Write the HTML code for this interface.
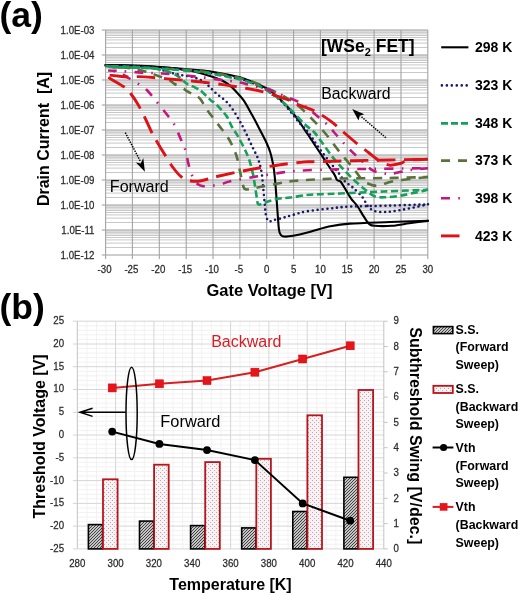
<!DOCTYPE html><html><head><meta charset="utf-8"><style>html,body{margin:0;padding:0;background:#fff;}svg{display:block;}text{font-family:"Liberation Sans",Arial,sans-serif;white-space:pre;}</style></head><body><svg width="520" height="595" viewBox="0 0 520 595"><defs><pattern id="hatch" x="0" y="0" width="3" height="3" patternUnits="userSpaceOnUse"><rect width="3" height="3" fill="#fff"/><path d="M-0.6 3.6L3.6 -0.6M2.4 3.6L3.6 2.4M-0.6 0.6L0.6 -0.6" stroke="#3a3a3a" stroke-width="1.15"/></pattern><pattern id="dots" x="0" y="0" width="4" height="4" patternUnits="userSpaceOnUse"><rect width="4" height="4" fill="#f8f1f3"/><rect x="0" y="0" width="1" height="1" fill="#b8a8ac"/><rect x="2" y="2" width="1" height="1" fill="#c4b0b6"/></pattern></defs><rect width="520" height="595" fill="#fff"/><path d="M105.6 47.5H427.8M105.6 43.1H427.8M105.6 39.9H427.8M105.6 37.5H427.8M105.6 35.5H427.8M105.6 33.9H427.8M105.6 32.4H427.8M105.6 31.1H427.8M105.6 72.5H427.8M105.6 68.1H427.8M105.6 64.9H427.8M105.6 62.5H427.8M105.6 60.5H427.8M105.6 58.9H427.8M105.6 57.4H427.8M105.6 56.1H427.8M105.6 97.5H427.8M105.6 93.1H427.8M105.6 89.9H427.8M105.6 87.5H427.8M105.6 85.5H427.8M105.6 83.9H427.8M105.6 82.4H427.8M105.6 81.1H427.8M105.6 122.5H427.8M105.6 118.1H427.8M105.6 114.9H427.8M105.6 112.5H427.8M105.6 110.5H427.8M105.6 108.9H427.8M105.6 107.4H427.8M105.6 106.1H427.8M105.6 147.5H427.8M105.6 143.1H427.8M105.6 139.9H427.8M105.6 137.5H427.8M105.6 135.5H427.8M105.6 133.9H427.8M105.6 132.4H427.8M105.6 131.1H427.8M105.6 172.5H427.8M105.6 168.1H427.8M105.6 164.9H427.8M105.6 162.5H427.8M105.6 160.5H427.8M105.6 158.9H427.8M105.6 157.4H427.8M105.6 156.1H427.8M105.6 197.5H427.8M105.6 193.1H427.8M105.6 189.9H427.8M105.6 187.5H427.8M105.6 185.5H427.8M105.6 183.9H427.8M105.6 182.4H427.8M105.6 181.1H427.8M105.6 222.5H427.8M105.6 218.1H427.8M105.6 214.9H427.8M105.6 212.5H427.8M105.6 210.5H427.8M105.6 208.9H427.8M105.6 207.4H427.8M105.6 206.1H427.8M105.6 247.5H427.8M105.6 243.1H427.8M105.6 239.9H427.8M105.6 237.5H427.8M105.6 235.5H427.8M105.6 233.9H427.8M105.6 232.4H427.8M105.6 231.1H427.8" stroke="#c2c2c2" stroke-width="0.9" fill="none"/><path d="M101.8 30H427.8M101.8 55H427.8M101.8 80H427.8M101.8 105H427.8M101.8 130H427.8M101.8 155H427.8M101.8 180H427.8M101.8 205H427.8M101.8 230H427.8M101.8 255H427.8" stroke="#9c9c9c" stroke-width="1" fill="none"/><path d="M105.6 30V259M132.4 30V259M159.3 30V259M186.2 30V259M213 30V259M239.9 30V259M266.7 30V259M293.6 30V259M320.4 30V259M347.2 30V259M374.1 30V259M401 30V259M427.8 30V259" stroke="#a4a4a4" stroke-width="1.1" fill="none"/><text transform="translate(94.5 33.5) scale(0.95 1)" font-size="10.2" fill="#2b2b2b" stroke="#2b2b2b" stroke-width="0.25" text-anchor="end">1.0E-03</text><text transform="translate(94.5 58.5) scale(0.95 1)" font-size="10.2" fill="#2b2b2b" stroke="#2b2b2b" stroke-width="0.25" text-anchor="end">1.0E-04</text><text transform="translate(94.5 83.5) scale(0.95 1)" font-size="10.2" fill="#2b2b2b" stroke="#2b2b2b" stroke-width="0.25" text-anchor="end">1.0E-05</text><text transform="translate(94.5 108.5) scale(0.95 1)" font-size="10.2" fill="#2b2b2b" stroke="#2b2b2b" stroke-width="0.25" text-anchor="end">1.0E-06</text><text transform="translate(94.5 133.5) scale(0.95 1)" font-size="10.2" fill="#2b2b2b" stroke="#2b2b2b" stroke-width="0.25" text-anchor="end">1.0E-07</text><text transform="translate(94.5 158.5) scale(0.95 1)" font-size="10.2" fill="#2b2b2b" stroke="#2b2b2b" stroke-width="0.25" text-anchor="end">1.0E-08</text><text transform="translate(94.5 183.5) scale(0.95 1)" font-size="10.2" fill="#2b2b2b" stroke="#2b2b2b" stroke-width="0.25" text-anchor="end">1.0E-09</text><text transform="translate(94.5 208.5) scale(0.95 1)" font-size="10.2" fill="#2b2b2b" stroke="#2b2b2b" stroke-width="0.25" text-anchor="end">1.0E-10</text><text transform="translate(94.5 233.5) scale(0.95 1)" font-size="10.2" fill="#2b2b2b" stroke="#2b2b2b" stroke-width="0.25" text-anchor="end">1.0E-11</text><text transform="translate(94.5 258.5) scale(0.95 1)" font-size="10.2" fill="#2b2b2b" stroke="#2b2b2b" stroke-width="0.25" text-anchor="end">1.0E-12</text><text transform="translate(104.6 273) scale(0.95 1)" font-size="10.2" fill="#2b2b2b" stroke="#2b2b2b" stroke-width="0.25" text-anchor="middle">-30</text><text transform="translate(131.4 273) scale(0.95 1)" font-size="10.2" fill="#2b2b2b" stroke="#2b2b2b" stroke-width="0.25" text-anchor="middle">-25</text><text transform="translate(158.3 273) scale(0.95 1)" font-size="10.2" fill="#2b2b2b" stroke="#2b2b2b" stroke-width="0.25" text-anchor="middle">-20</text><text transform="translate(185.2 273) scale(0.95 1)" font-size="10.2" fill="#2b2b2b" stroke="#2b2b2b" stroke-width="0.25" text-anchor="middle">-15</text><text transform="translate(212 273) scale(0.95 1)" font-size="10.2" fill="#2b2b2b" stroke="#2b2b2b" stroke-width="0.25" text-anchor="middle">-10</text><text transform="translate(238.9 273) scale(0.95 1)" font-size="10.2" fill="#2b2b2b" stroke="#2b2b2b" stroke-width="0.25" text-anchor="middle">-5</text><text transform="translate(266.7 273) scale(0.95 1)" font-size="10.2" fill="#2b2b2b" stroke="#2b2b2b" stroke-width="0.25" text-anchor="middle">0</text><text transform="translate(293.6 273) scale(0.95 1)" font-size="10.2" fill="#2b2b2b" stroke="#2b2b2b" stroke-width="0.25" text-anchor="middle">5</text><text transform="translate(320.4 273) scale(0.95 1)" font-size="10.2" fill="#2b2b2b" stroke="#2b2b2b" stroke-width="0.25" text-anchor="middle">10</text><text transform="translate(347.2 273) scale(0.95 1)" font-size="10.2" fill="#2b2b2b" stroke="#2b2b2b" stroke-width="0.25" text-anchor="middle">15</text><text transform="translate(374.1 273) scale(0.95 1)" font-size="10.2" fill="#2b2b2b" stroke="#2b2b2b" stroke-width="0.25" text-anchor="middle">20</text><text transform="translate(401 273) scale(0.95 1)" font-size="10.2" fill="#2b2b2b" stroke="#2b2b2b" stroke-width="0.25" text-anchor="middle">25</text><text transform="translate(427.8 273) scale(0.95 1)" font-size="10.2" fill="#2b2b2b" stroke="#2b2b2b" stroke-width="0.25" text-anchor="middle">30</text><g fill="none" stroke-linejoin="round" clip-path="none"><path id="black_fwd" d="M105.6 65C113 65.2 136.8 65.5 150 66.3C163.2 67.1 175 68.2 185 69.8C195 71.4 203.8 74.2 210 76C216.2 77.8 218.7 78.9 222 80.5C225.3 82.1 227.7 83.8 230 85.6C232.3 87.4 233.8 89.1 236 91.5C238.2 93.9 240.8 96.3 243.5 100.2C246.2 104.1 249.3 110.1 252.1 115.1C254.9 120.1 257.7 125.5 260.1 130.2C262.5 134.9 265 139.6 266.7 143.3C268.4 147 269.4 149.6 270.3 152.5C271.2 155.4 271.8 158.1 272.4 161C273 163.9 273.5 166 274 170C274.5 174 275 179.2 275.5 185C276 190.8 276.5 198.3 277 205C277.5 211.7 278.1 220.4 278.5 225C278.9 229.6 278.9 230.6 279.6 232.5C280.3 234.4 280.5 235.8 282.7 236.3C284.9 236.9 288.4 236.6 293 235.8C297.6 235 304.2 233.3 310.4 231.7C316.6 230.1 323.4 227.7 330 226.3C336.6 225 340 224.3 350 223.6C360 222.9 377 222.5 390 222C403 221.5 421.7 220.9 428 220.7" stroke="#000000" stroke-width="2.1" stroke-linecap="round"/><path id="black_bwd" d="M428 220.7C424.9 221.1 415.2 222.5 409.2 223.3C403.2 224.2 397.7 225.4 391.9 225.8C386.1 226.2 378.4 226.1 374.6 225.8C370.9 225.5 371.1 225.5 369.4 224.1C367.7 222.7 366.2 220.2 364.2 217.2C362.2 214.2 359.5 209.1 357.3 206C355.1 202.9 353.2 201.5 351.1 198.6C349.1 195.7 346.7 191.3 345 188.5C343.3 185.7 342 183.3 341 182C340 180.7 339.7 181.3 339 180.9C338.3 180.5 337.6 180.7 336.8 179.6C336 178.5 335.8 176.8 334.3 174.4C332.8 172 330.2 168.4 328 165C325.8 161.6 323.8 158.6 320.9 154.2C318 149.8 313.6 142.9 310.8 138.8C308.1 134.7 306.2 132.2 304.4 129.5C302.6 126.8 301.6 124.9 300 122.5C298.4 120.1 296.9 118 294.6 115.2C292.4 112.4 289.4 108.9 286.5 105.8C283.6 102.7 280.2 99.3 277.1 96.5C274 93.7 271.1 91.3 267.7 89.2C264.3 87.1 260.9 85.6 256.9 83.8C252.9 82 248 79.9 243.5 78.4C239 76.9 234.8 76 230 75C225.2 74 220 73 215 72.2C210 71.4 210.8 71.2 200 70.2C189.2 69.2 165.7 67.4 150 66.5C134.3 65.6 113 65.2 105.6 65" stroke="#000000" stroke-width="2.1" stroke-linecap="round"/><path id="blue_fwd" d="M105.6 65.5C111.3 65.7 131.4 66.2 140 66.8C148.6 67.4 152.1 67.9 157.3 68.9C162.5 69.9 167.2 71.7 171 72.7C174.8 73.7 177.3 74.4 180.4 75C183.5 75.6 187 75.8 189.6 76.3C192.2 76.8 193.4 76.9 196 78C198.6 79.1 201.8 80.3 205 82.7C208.2 85.1 211.1 88.8 215 92.3C218.9 95.8 224.4 99.1 228.5 103.8C232.6 108.5 236.6 115.8 239.4 120.5C242.2 125.2 243.4 127.9 245.5 132.2C247.6 136.5 250 141.9 252.1 146.3C254.2 150.8 256.5 154.6 258.1 158.9C259.7 163.2 260.6 167.2 261.5 172C262.4 176.8 262.6 182.5 263.2 188C263.8 193.5 264.4 200.6 264.8 205C265.2 209.4 265.2 211.8 265.8 214.5C266.4 217.2 267.2 220.4 268.5 221.3C269.8 222.2 271.1 220.8 273.5 220.2C275.9 219.6 279.5 218.8 282.7 217.9C285.9 217 288.4 216.1 292.5 215C296.6 213.9 300.8 212.4 307 211.3C313.2 210.2 322.8 209.3 330 208.5C337.2 207.7 340 207.1 350 206.6C360 206.1 377 206 390 205.6C403 205.2 421.7 204.5 428 204.3" stroke="#18186e" stroke-width="2.6" stroke-linecap="round" stroke-dasharray="0 4.85"/><path id="blue_bwd" d="M428 204.3C425.4 204.9 417.6 206.7 412.7 207.7C407.8 208.7 403.1 209.6 398.8 210.3C394.5 211 390.7 211.9 386.7 212C382.7 212.1 377.8 212.1 374.6 211.1C371.4 210.1 369.7 208.3 367.7 206C365.7 203.7 365.1 200.5 362.5 197.3C359.9 194.1 355 189.5 352.1 186.9C349.2 184.3 347.6 184.1 345.2 181.7C342.8 179.3 341.8 177.1 338 172.3C334.2 167.5 326.9 158.6 322.7 153C318.5 147.4 315.3 142.5 312.7 138.8C310.1 135.1 309.6 133.7 307.3 131C305 128.3 301.9 125.8 299 122.5C296.1 119.2 293.1 114.7 290 111C286.9 107.3 283.9 103.7 280.4 100.5C276.9 97.3 272.6 94.2 268.8 91.6C265 89 262.1 87.1 257.3 85C252.5 82.9 249.6 81.2 240 79C230.4 76.8 215 73.5 200 71.5C185 69.5 165.7 68.2 150 67.2C134.3 66.2 113 65.8 105.6 65.5" stroke="#18186e" stroke-width="2.6" stroke-linecap="round" stroke-dasharray="0 4.85"/><path id="olive_fwd" d="M105.6 66C109.7 66.4 123.7 67.4 130 68.2C136.3 69 139.5 70 143.5 71C147.5 72 149.6 72.9 153.8 74.4C158 75.9 165.3 78.2 168.8 79.8C172.3 81.4 172.3 82.7 174.6 84C176.9 85.3 180.8 86.8 182.7 87.9C184.6 89 184.4 89.5 186.1 90.6C187.8 91.7 190.7 93.2 193 94.5C195.3 95.8 197.6 95.9 200 98.6C202.4 101.3 204.6 106.5 207.7 110.8C210.8 115.1 214.8 119.9 218.3 124.6C221.8 129.3 225.8 133.9 228.8 139C231.8 144.1 234.4 149.8 236.2 155C238 160.2 238.8 165.9 239.8 170.4C240.8 174.9 241.5 178.9 242.4 182C243.3 185.1 242.7 188.3 245.4 189.2C248.1 190.1 253.4 188.2 258.8 187.3C264.2 186.4 271.8 184.6 278 183.5C284.2 182.4 287.3 181.6 296 180.8C304.7 180 315 179.3 330 178.8C345 178.3 369.7 178.3 386 178C402.3 177.7 421 177.2 428 177" stroke="#58723a" stroke-width="2.6" stroke-linecap="butt" stroke-dasharray="9 7.73" stroke-dashoffset="1.3"/><path id="olive_bwd" d="M428 177C425 177.3 416 178.2 410 179C404 179.8 396.7 180.6 392 181.5C387.3 182.4 384.9 183.8 382 184.5C379.1 185.2 376.9 185.8 374.6 185.6C372.3 185.4 369.9 184.3 368 183.5C366.1 182.7 365.4 183.5 363 181C360.6 178.5 357.3 173.2 353.5 168.5C349.7 163.8 344.8 158.4 340 152.5C335.2 146.6 329.9 138.8 325 133C320.1 127.2 315 122 310.8 117.7C306.6 113.4 303.5 110.2 300 107.3C296.5 104.3 293.3 102.1 290 100C286.7 97.9 283.9 96.4 280.4 94.5C276.9 92.6 272.6 90.6 268.8 88.8C265 87 262.1 85.4 257.3 83.6C252.5 81.8 249.6 80.1 240 78C230.4 75.9 215 72.9 200 71.2C185 69.5 165.7 68.7 150 68C134.3 67.3 113 67.3 105.6 67.2" stroke="#58723a" stroke-width="2.6" stroke-linecap="butt" stroke-dasharray="9.5 8"/><path id="green_fwd" d="M105.6 66C111.3 66.2 130.9 66.6 140 67.2C149.1 67.8 154 68.2 160 69.5C166 70.8 171.7 72.7 176 75C180.3 77.3 183.8 81.7 186.1 83.3C188.4 84.9 187.7 83.9 189.6 84.8C191.5 85.7 195.7 87.7 197.7 88.8C199.7 89.9 199.2 89.3 201.5 91.3C203.8 93.3 209.2 99 211.5 101C213.8 103 212.5 100.5 215 103C217.5 105.5 223.7 112 226.5 116C229.3 120 230 123.5 232 127C234 130.6 235.8 132.4 238.5 137.3C241.2 142.2 245.7 150.7 248 156.5C250.3 162.3 251.3 167.1 252.5 172C253.7 176.9 254.2 181.5 255 186C255.8 190.5 256.4 195.7 257 198.8C257.6 201.9 257 204.2 258.8 204.6C260.6 205 264.8 202.5 268 201.5C271.2 200.5 274.3 199.5 278 198.8C281.7 198.1 285.2 198.1 290 197.5C294.8 196.9 302.2 195.5 307 195C311.8 194.5 313.3 194.6 318.8 194.3C324.3 194.1 329.2 194 340 193.5C350.8 193 368.9 192.1 383.6 191.5C398.3 190.9 420.6 190.1 428 189.8" stroke="#17a05a" stroke-width="2.6" stroke-linecap="butt" stroke-dasharray="7 3.6" stroke-dashoffset="4.4"/><path id="green_bwd" d="M428 189.6C426.3 190 422.5 191.1 417.9 192.1C413.3 193.1 406.1 194.7 400.6 195.6C395.1 196.5 389.3 197.2 385 197.3C380.7 197.4 378 197.5 374.6 196.2C371.2 194.8 368.1 191.9 364.6 189.2C361.1 186.5 357.2 182.9 353.8 179.8C350.4 176.7 347 173.1 344.4 170.4C341.8 167.7 340.2 166.1 338 163.5C335.8 160.9 333.7 158.5 331 155C328.3 151.5 324.8 146.3 322 142.5C319.2 138.7 316.8 135 314 132C311.2 129 308.8 128.1 305 124.5C301.2 120.9 295.6 114.6 291.5 110.5C287.4 106.4 284.2 103.2 280.4 100C276.6 96.8 272.6 94 268.8 91.6C265 89.1 261.5 87.2 257.3 85.3C253.1 83.4 247.4 81.4 243.5 80.2C239.6 79 241.2 79.6 234 78.2C226.8 76.8 214 73.7 200 72C186 70.3 165.7 69 150 68.2C134.3 67.4 113 67.2 105.6 67" stroke="#17a05a" stroke-width="2.6" stroke-linecap="butt" stroke-dasharray="7 3.6"/><path id="magenta_fwd" d="M105.6 70.4C106.9 70.5 111 70.4 113.6 70.9C116.2 71.4 118.5 72.3 121 73.5C123.5 74.7 125.6 76.2 128.5 78C131.4 79.8 135.6 82.1 138.6 84C141.6 85.9 144.1 87.5 146.3 89.5C148.5 91.5 150.1 93.8 152 96C153.9 98.2 155.1 99.7 157.7 102.9C160.2 106.1 164.6 111.5 167.3 115C170 118.5 171.8 120 174 124C176.2 128 178.9 134.7 180.8 139.2C182.7 143.7 184.3 146.6 185.6 150.8C186.9 155 187.4 160 188.5 164.2C189.6 168.4 191.1 172.9 192.3 176C193.6 179.1 194.7 180.9 196 182.5C197.3 184.1 198.5 184.8 200 185.4C201.5 186 202.7 186.3 205 186.3C207.3 186.3 210.9 185.9 213.8 185.5C216.7 185.1 219.4 184.6 222.3 183.8C225.2 183 225.6 182.2 231.5 180.9C237.4 179.7 249.2 177.7 257.7 176.3C266.2 174.9 275.6 173.4 282.7 172.4C289.8 171.4 290.8 171.1 300 170.6C309.2 170.1 324.7 169.6 338 169.3C351.3 169 365 169 380 168.8C395 168.6 420 168.3 428 168.2" stroke="#c4167f" stroke-width="2.6" stroke-linecap="butt" stroke-dasharray="9 8.28 1.6 8.28" stroke-dashoffset="9.1"/><path id="magenta_bwd" d="M428 168.2C425 168.5 416 169.1 410 170C404 170.9 396.7 173.1 392 173.6C387.3 174.1 385.2 173.5 382 173C378.8 172.5 375.7 172.1 372.7 170.4C369.7 168.7 366.9 165.6 364 163C361.1 160.4 358.4 157.9 355.4 155C352.4 152.1 349 148.8 345.8 145.4C342.6 142 339 137.8 336 134.5C333 131.2 331.6 128.8 328 125.4C324.4 122 319.3 117.6 314.6 113.8C309.9 110 305.1 105.7 300 102.7C294.9 99.7 288.6 97.8 283.8 95.8C279 93.8 276.9 92.4 271.1 90.6C265.3 88.8 254.4 86.1 249.2 84.8C244 83.5 245 83.4 240 82.5C235 81.6 227.6 80.7 219 79.6C210.4 78.5 197.9 76.8 188.5 75.8C179.1 74.8 170.1 74 162.3 73.5C154.5 73 148.6 73 141.5 72.6C134.4 72.2 126 71.4 120 71C114 70.6 108 70.5 105.6 70.4" stroke="#c4167f" stroke-width="2.6" stroke-linecap="butt" stroke-dasharray="8.8 8.03 1.6 8.03" stroke-dashoffset="0.9"/><path id="red_fwd" d="M105.6 75.5C106.3 76 107 76.6 110 78.5C113 80.4 120.2 84.1 123.7 86.7C127.2 89.3 128.6 91 131 94C133.4 97 135.5 100.2 138 104.5C140.5 108.8 143.7 115.2 146 120C148.3 124.8 150.1 129.2 152 133C153.9 136.8 155.5 139.2 157.7 143C159.9 146.8 162.8 151.5 165.4 155.6C168 159.7 170.4 164 173 167.5C175.6 171 178.2 174.2 180.8 176.4C183.4 178.6 185.3 179.6 188.5 180.4C191.7 181.2 194.9 181.7 200 181C205.1 180.3 211.2 177.8 219.2 176C227.2 174.2 238.4 171.8 248 170C257.6 168.2 268.3 166.5 277 165.2C285.7 163.9 294 163 300 162.4C306 161.8 301.8 162 313 161.7C324.2 161.4 347.8 160.8 367 160.4C386.2 160 417.8 159.5 428 159.3" stroke="#dc1218" stroke-width="2.9" stroke-linecap="butt" stroke-dasharray="18.5 8.48" stroke-dashoffset="23.3"/><path id="red_bwd" d="M428 159.3C424.8 159.5 413.5 159.5 408.8 160.2C404.1 160.9 403.1 162.7 400 163.5C396.9 164.3 393.2 165.4 390 165.2C386.8 164.9 383.3 163.1 381 162C378.7 160.9 378.1 160.1 376 158.5C373.9 156.9 371.8 155.1 368.5 152.5C365.2 149.9 360.4 146.4 356 142.8C351.6 139.2 346.3 134.5 342 130.8C337.7 127.1 334.6 123.9 330 120.6C325.4 117.3 319.7 113.6 314.6 111C309.5 108.4 303.6 107 299.2 105.2C294.8 103.4 292.5 101.7 288.4 100C284.3 98.3 279.2 96.7 274.6 95.2C270 93.8 265.8 92.5 261 91.3C256.2 90.1 252.2 89.4 245.8 88.3C239.4 87.2 231.3 85.8 222.7 84.6C214.1 83.4 201.9 82 194 81.2C186.1 80.4 181.8 80.1 175 79.5C168.2 78.9 159.2 78 153 77.5C146.8 77 142.1 76.7 138 76.6C133.9 76.5 132.9 77.2 128.5 77C124.1 76.8 115.5 75.7 111.7 75.4C107.9 75.2 106.6 75.5 105.6 75.5" stroke="#dc1218" stroke-width="2.9" stroke-linecap="butt" stroke-dasharray="18.6 8.64" stroke-dashoffset="3.6"/></g><text x="109.8" y="191.5" font-size="16.1" fill="#000">Forward</text><text x="321.3" y="99.3" font-size="15.8" fill="#000">Backward</text><path d="M125.3 132.6L140.6 161.8" stroke="#000" stroke-width="1.5" stroke-dasharray="1.4 1.15" fill="none"/><path d="M144.9 171.8L135.9 162.5L140.7 163.4L143.3 158.1Z" fill="#000"/><path d="M385.8 137.7L360.6 116" stroke="#000" stroke-width="1.5" stroke-dasharray="1.4 1.15" fill="none"/><path d="M352.2 109.1L364.3 114.3L359.8 115.7L358.5 120.5Z" fill="#000"/><text x="321" y="52.1" font-size="17.5" font-weight="bold" fill="#000">[WSe<tspan font-size="11" dy="3.5">2</tspan><tspan dy="-3.5"> FET]</tspan></text><path d="M441.2 47.3H468.4" stroke="#000" stroke-width="2.1"/><text x="475" y="52.1" font-size="14" font-weight="bold" fill="#000">298 K</text><path d="M441.9 85.4H467" stroke="#18186e" stroke-width="2.6" stroke-linecap="round" stroke-dasharray="0 4.96"/><text x="475" y="90.2" font-size="14" font-weight="bold" fill="#000">323 K</text><path d="M441 123.4H468" stroke="#17a05a" stroke-width="2.6" stroke-dasharray="7 3"/><text x="475" y="128.2" font-size="14" font-weight="bold" fill="#000">348 K</text><path d="M441 160.6H450M458 160.6H467" stroke="#58723a" stroke-width="2.6"/><text x="475" y="165.4" font-size="14" font-weight="bold" fill="#000">373 K</text><path d="M441 198.3H450M458.3 198.3H459.9" stroke="#c4167f" stroke-width="2.6"/><text x="475" y="203.1" font-size="14" font-weight="bold" fill="#000">398 K</text><path d="M441 235.9H459.5" stroke="#dc1218" stroke-width="2.9"/><text x="475" y="240.7" font-size="14" font-weight="bold" fill="#000">423 K</text><text x="0" y="0" font-size="16" font-weight="bold" fill="#000" text-anchor="middle" transform="translate(49.2 139) rotate(-90)">Drain Current  [A]</text><text x="269.5" y="296.2" font-size="16.5" font-weight="bold" fill="#000" text-anchor="middle">Gate Voltage [V]</text><text x="-0.5" y="27" font-size="35.5" font-weight="bold" fill="#000">(a)</text><text x="-0.5" y="319" font-size="35.5" font-weight="bold" fill="#000">(b)</text><path d="M86.9 321.2V548.9M96.5 321.2V548.9M106 321.2V548.9M125.2 321.2V548.9M134.8 321.2V548.9M144.3 321.2V548.9M163.5 321.2V548.9M173.1 321.2V548.9M182.7 321.2V548.9M201.8 321.2V548.9M211.4 321.2V548.9M221 321.2V548.9M240.1 321.2V548.9M249.7 321.2V548.9M259.3 321.2V548.9M278.4 321.2V548.9M288 321.2V548.9M297.6 321.2V548.9M316.8 321.2V548.9M326.3 321.2V548.9M335.9 321.2V548.9M355.1 321.2V548.9M364.6 321.2V548.9M374.2 321.2V548.9M77.3 544.3H383.8M77.3 539.8H383.8M77.3 535.2H383.8M77.3 530.7H383.8M77.3 521.6H383.8M77.3 517H383.8M77.3 512.5H383.8M77.3 507.9H383.8M77.3 498.8H383.8M77.3 494.3H383.8M77.3 489.7H383.8M77.3 485.1H383.8M77.3 476H383.8M77.3 471.5H383.8M77.3 466.9H383.8M77.3 462.4H383.8M77.3 453.3H383.8M77.3 448.7H383.8M77.3 444.2H383.8M77.3 439.6H383.8M77.3 430.5H383.8M77.3 425.9H383.8M77.3 421.4H383.8M77.3 416.8H383.8M77.3 407.7H383.8M77.3 403.2H383.8M77.3 398.6H383.8M77.3 394.1H383.8M77.3 385H383.8M77.3 380.4H383.8M77.3 375.8H383.8M77.3 371.3H383.8M77.3 362.2H383.8M77.3 357.6H383.8M77.3 353.1H383.8M77.3 348.5H383.8M77.3 339.4H383.8M77.3 334.9H383.8M77.3 330.3H383.8M77.3 325.8H383.8" stroke="#f0f0f0" stroke-width="0.9" fill="none"/><path d="M115.6 321.2V548.9M153.9 321.2V548.9M192.2 321.2V548.9M230.6 321.2V548.9M268.9 321.2V548.9M307.2 321.2V548.9M345.5 321.2V548.9M72.9 548.9H383.8M72.9 526.1H383.8M72.9 503.4H383.8M72.9 480.6H383.8M72.9 457.8H383.8M72.9 435H383.8M72.9 412.3H383.8M72.9 389.5H383.8M72.9 366.7H383.8M72.9 344H383.8M72.9 321.2H383.8" stroke="#d6d6d6" stroke-width="1" fill="none"/><path d="M77.3 321.2V548.9M383.8 321.2V548.9M383.8 548.9H387.7M383.8 523.6H387.7M383.8 498.3H387.7M383.8 473H387.7M383.8 447.7H387.7M383.8 422.4H387.7M383.8 397.1H387.7M383.8 371.8H387.7M383.8 346.5H387.7M383.8 321.2H387.7" stroke="#c4c4c4" stroke-width="1" fill="none"/><rect x="88.4" y="524.6" width="14.2" height="24.3" fill="url(#hatch)" stroke="#000" stroke-width="1.6"/><rect x="103" y="479.3" width="14.6" height="69.6" fill="url(#dots)" stroke="#b8141c" stroke-width="1.8"/><rect x="139.5" y="521.1" width="14.2" height="27.8" fill="url(#hatch)" stroke="#000" stroke-width="1.6"/><rect x="154.1" y="464.7" width="14.6" height="84.2" fill="url(#dots)" stroke="#b8141c" stroke-width="1.8"/><rect x="190.6" y="525.6" width="14.2" height="23.3" fill="url(#hatch)" stroke="#000" stroke-width="1.6"/><rect x="205.2" y="462.1" width="14.6" height="86.8" fill="url(#dots)" stroke="#b8141c" stroke-width="1.8"/><rect x="241.7" y="527.9" width="14.2" height="21" fill="url(#hatch)" stroke="#000" stroke-width="1.6"/><rect x="256.3" y="458.8" width="14.6" height="90.1" fill="url(#dots)" stroke="#b8141c" stroke-width="1.8"/><rect x="292.8" y="511.5" width="14.2" height="37.4" fill="url(#hatch)" stroke="#000" stroke-width="1.6"/><rect x="307.4" y="415.3" width="14.6" height="133.6" fill="url(#dots)" stroke="#b8141c" stroke-width="1.8"/><rect x="343.9" y="477.3" width="14.2" height="71.6" fill="url(#hatch)" stroke="#000" stroke-width="1.6"/><rect x="358.5" y="390" width="14.6" height="158.9" fill="url(#dots)" stroke="#b8141c" stroke-width="1.8"/><path d="M112.2 431.6L159.4 443.9L207 450.1L254.9 460.1L302.7 503.4L350.2 520.7" stroke="#000" stroke-width="2" fill="none"/><path d="M112.2 387.9L159.4 383.8L207 380.6L254.9 372.2L302.7 359L350.2 345.8" stroke="#d42020" stroke-width="2" fill="none"/><circle cx="112.2" cy="431.6" r="3.9" fill="#000"/><circle cx="159.4" cy="443.9" r="3.9" fill="#000"/><circle cx="207" cy="450.1" r="3.9" fill="#000"/><circle cx="254.9" cy="460.1" r="3.9" fill="#000"/><circle cx="302.7" cy="503.4" r="3.9" fill="#000"/><circle cx="350.2" cy="520.7" r="3.9" fill="#000"/><rect x="108.2" y="383.9" width="8" height="8" fill="#e8141c" stroke="#c00" stroke-width="0.5"/><rect x="155.4" y="379.8" width="8" height="8" fill="#e8141c" stroke="#c00" stroke-width="0.5"/><rect x="203" y="376.6" width="8" height="8" fill="#e8141c" stroke="#c00" stroke-width="0.5"/><rect x="250.9" y="368.2" width="8" height="8" fill="#e8141c" stroke="#c00" stroke-width="0.5"/><rect x="298.7" y="355" width="8" height="8" fill="#e8141c" stroke="#c00" stroke-width="0.5"/><rect x="346.2" y="341.8" width="8" height="8" fill="#e8141c" stroke="#c00" stroke-width="0.5"/><ellipse cx="131.6" cy="413.4" rx="5.6" ry="46.2" fill="none" stroke="#000" stroke-width="1.5"/><path d="M125.8 412.3H80.5M92.6 408.2L80 412.3L92.6 416.4" stroke="#000" stroke-width="1.5" fill="none"/><text x="160.3" y="426.8" font-size="16.4" fill="#000">Forward</text><text x="211.2" y="346.9" font-size="16" fill="#d41e26">Backward</text><text transform="translate(64.1 551.8) scale(0.95 1)" font-size="10.2" fill="#2b2b2b" stroke="#2b2b2b" stroke-width="0.25" text-anchor="end">-25</text><text transform="translate(64.1 529) scale(0.95 1)" font-size="10.2" fill="#2b2b2b" stroke="#2b2b2b" stroke-width="0.25" text-anchor="end">-20</text><text transform="translate(64.1 506.3) scale(0.95 1)" font-size="10.2" fill="#2b2b2b" stroke="#2b2b2b" stroke-width="0.25" text-anchor="end">-15</text><text transform="translate(64.1 483.5) scale(0.95 1)" font-size="10.2" fill="#2b2b2b" stroke="#2b2b2b" stroke-width="0.25" text-anchor="end">-10</text><text transform="translate(64.1 460.7) scale(0.95 1)" font-size="10.2" fill="#2b2b2b" stroke="#2b2b2b" stroke-width="0.25" text-anchor="end">-5</text><text transform="translate(64.1 437.9) scale(0.95 1)" font-size="10.2" fill="#2b2b2b" stroke="#2b2b2b" stroke-width="0.25" text-anchor="end">0</text><text transform="translate(64.1 415.2) scale(0.95 1)" font-size="10.2" fill="#2b2b2b" stroke="#2b2b2b" stroke-width="0.25" text-anchor="end">5</text><text transform="translate(64.1 392.4) scale(0.95 1)" font-size="10.2" fill="#2b2b2b" stroke="#2b2b2b" stroke-width="0.25" text-anchor="end">10</text><text transform="translate(64.1 369.6) scale(0.95 1)" font-size="10.2" fill="#2b2b2b" stroke="#2b2b2b" stroke-width="0.25" text-anchor="end">15</text><text transform="translate(64.1 346.9) scale(0.95 1)" font-size="10.2" fill="#2b2b2b" stroke="#2b2b2b" stroke-width="0.25" text-anchor="end">20</text><text transform="translate(64.1 324.1) scale(0.95 1)" font-size="10.2" fill="#2b2b2b" stroke="#2b2b2b" stroke-width="0.25" text-anchor="end">25</text><text transform="translate(77.3 567.3) scale(0.95 1)" font-size="10.2" fill="#2b2b2b" stroke="#2b2b2b" stroke-width="0.25" text-anchor="middle">280</text><text transform="translate(115.6 567.3) scale(0.95 1)" font-size="10.2" fill="#2b2b2b" stroke="#2b2b2b" stroke-width="0.25" text-anchor="middle">300</text><text transform="translate(153.9 567.3) scale(0.95 1)" font-size="10.2" fill="#2b2b2b" stroke="#2b2b2b" stroke-width="0.25" text-anchor="middle">320</text><text transform="translate(192.2 567.3) scale(0.95 1)" font-size="10.2" fill="#2b2b2b" stroke="#2b2b2b" stroke-width="0.25" text-anchor="middle">340</text><text transform="translate(230.6 567.3) scale(0.95 1)" font-size="10.2" fill="#2b2b2b" stroke="#2b2b2b" stroke-width="0.25" text-anchor="middle">360</text><text transform="translate(268.9 567.3) scale(0.95 1)" font-size="10.2" fill="#2b2b2b" stroke="#2b2b2b" stroke-width="0.25" text-anchor="middle">380</text><text transform="translate(307.2 567.3) scale(0.95 1)" font-size="10.2" fill="#2b2b2b" stroke="#2b2b2b" stroke-width="0.25" text-anchor="middle">400</text><text transform="translate(345.5 567.3) scale(0.95 1)" font-size="10.2" fill="#2b2b2b" stroke="#2b2b2b" stroke-width="0.25" text-anchor="middle">420</text><text transform="translate(383.8 567.3) scale(0.95 1)" font-size="10.2" fill="#2b2b2b" stroke="#2b2b2b" stroke-width="0.25" text-anchor="middle">440</text><text transform="translate(393.6 552.1) scale(0.95 1)" font-size="10.2" fill="#2b2b2b" stroke="#2b2b2b" stroke-width="0.25" text-anchor="start">0</text><text transform="translate(393.6 526.8) scale(0.95 1)" font-size="10.2" fill="#2b2b2b" stroke="#2b2b2b" stroke-width="0.25" text-anchor="start">1</text><text transform="translate(393.6 501.5) scale(0.95 1)" font-size="10.2" fill="#2b2b2b" stroke="#2b2b2b" stroke-width="0.25" text-anchor="start">2</text><text transform="translate(393.6 476.2) scale(0.95 1)" font-size="10.2" fill="#2b2b2b" stroke="#2b2b2b" stroke-width="0.25" text-anchor="start">3</text><text transform="translate(393.6 450.9) scale(0.95 1)" font-size="10.2" fill="#2b2b2b" stroke="#2b2b2b" stroke-width="0.25" text-anchor="start">4</text><text transform="translate(393.6 425.6) scale(0.95 1)" font-size="10.2" fill="#2b2b2b" stroke="#2b2b2b" stroke-width="0.25" text-anchor="start">5</text><text transform="translate(393.6 400.3) scale(0.95 1)" font-size="10.2" fill="#2b2b2b" stroke="#2b2b2b" stroke-width="0.25" text-anchor="start">6</text><text transform="translate(393.6 375) scale(0.95 1)" font-size="10.2" fill="#2b2b2b" stroke="#2b2b2b" stroke-width="0.25" text-anchor="start">7</text><text transform="translate(393.6 349.7) scale(0.95 1)" font-size="10.2" fill="#2b2b2b" stroke="#2b2b2b" stroke-width="0.25" text-anchor="start">8</text><text transform="translate(393.6 324.4) scale(0.95 1)" font-size="10.2" fill="#2b2b2b" stroke="#2b2b2b" stroke-width="0.25" text-anchor="start">9</text><text x="0" y="0" font-size="16" font-weight="bold" fill="#000" text-anchor="middle" transform="translate(45.3 436.4) rotate(-90)">Threshold Voltage [V]</text><text x="0" y="0" font-size="16" font-weight="bold" fill="#000" text-anchor="middle" transform="translate(410 435.8) rotate(90)">Subthreshold Swing [V/dec.]</text><text x="230.5" y="590" font-size="16" font-weight="bold" fill="#000" text-anchor="middle">Temperature [K]</text><rect x="433.4" y="326.6" width="19.4" height="7" fill="url(#hatch)" stroke="#000" stroke-width="1.6"/><rect x="433.4" y="385.8" width="19.4" height="7.2" fill="url(#dots)" stroke="#b8141c" stroke-width="1.8"/><path d="M432.6 447.5H453.4" stroke="#000" stroke-width="2"/><circle cx="443.6" cy="447.5" r="3.6" fill="#000"/><path d="M432.6 506.9H453.4" stroke="#d42020" stroke-width="2"/><rect x="439.8" y="503.1" width="7.7" height="7.6" fill="#e8141c"/><text x="455.6" y="333.6" font-size="12.4" font-weight="bold" fill="#000">S.S.</text><text x="455.6" y="351.3" font-size="12.4" font-weight="bold" fill="#000">(Forward</text><text x="455.6" y="369" font-size="12.4" font-weight="bold" fill="#000">Sweep)</text><text x="455.6" y="393" font-size="12.4" font-weight="bold" fill="#000">S.S.</text><text x="455.6" y="410.7" font-size="12.4" font-weight="bold" fill="#000">(Backward</text><text x="455.6" y="428.4" font-size="12.4" font-weight="bold" fill="#000">Sweep)</text><text x="455.6" y="451.8" font-size="12.4" font-weight="bold" fill="#000">Vth</text><text x="455.6" y="469.5" font-size="12.4" font-weight="bold" fill="#000">(Forward</text><text x="455.6" y="487.2" font-size="12.4" font-weight="bold" fill="#000">Sweep)</text><text x="455.6" y="511.2" font-size="12.4" font-weight="bold" fill="#000">Vth</text><text x="455.6" y="528.9" font-size="12.4" font-weight="bold" fill="#000">(Backward</text><text x="455.6" y="546.6" font-size="12.4" font-weight="bold" fill="#000">Sweep)</text></svg></body></html>
